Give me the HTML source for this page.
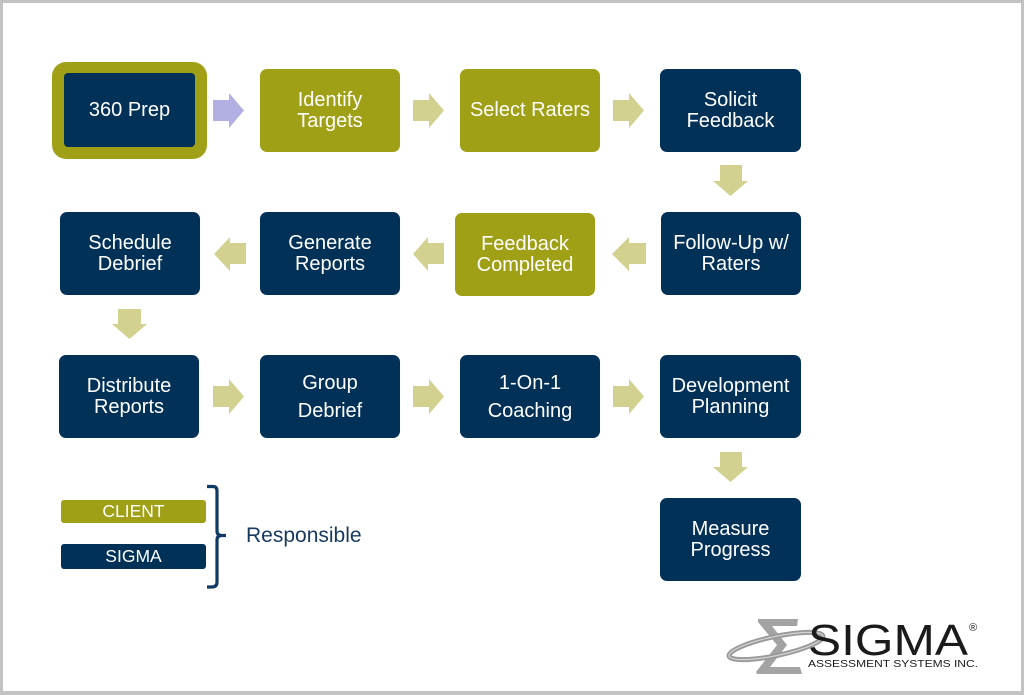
<!DOCTYPE html>
<html><head><meta charset="utf-8"><style>
html,body{margin:0;padding:0;background:#fff;}
body{width:1024px;height:695px;position:relative;overflow:hidden;font-family:"Liberation Sans",Arial,sans-serif;}
.frame{position:absolute;left:0;top:0;width:1024px;height:695px;box-sizing:border-box;border:3px solid #c3c3c3;border-bottom-width:4px;}
.b{position:absolute;border-radius:7px;color:#fff;font-size:20px;line-height:21px;display:flex;align-items:center;justify-content:center;text-align:center;}
.n{background:#023158;}
.o{background:#9fa016;}
</style></head><body>
<div class="frame"></div>

<!-- Row 1 -->
<div style="position:absolute;left:52px;top:62px;width:155px;height:97px;background:#9fa016;border-radius:14px;"></div>
<div class="b n" style="left:64px;top:73px;width:131px;height:74px;border-radius:4px;">360 Prep</div>
<div class="b o" style="left:260px;top:69px;width:140px;height:83px;">Identify<br>Targets</div>
<div class="b o" style="left:460px;top:69px;width:140px;height:83px;">Select Raters</div>
<div class="b n" style="left:660px;top:69px;width:141px;height:83px;">Solicit<br>Feedback</div>

<!-- Row 2 -->
<div class="b n" style="left:60px;top:212px;width:140px;height:83px;">Schedule<br>Debrief</div>
<div class="b n" style="left:260px;top:212px;width:140px;height:83px;">Generate<br>Reports</div>
<div class="b o" style="left:455px;top:213px;width:140px;height:83px;">Feedback<br>Completed</div>
<div class="b n" style="left:661px;top:212px;width:140px;height:83px;">Follow-Up w/<br>Raters</div>

<!-- Row 3 -->
<div class="b n" style="left:59px;top:355px;width:140px;height:83px;">Distribute<br>Reports</div>
<div class="b n" style="left:260px;top:355px;width:140px;height:83px;line-height:28px;">Group<br>Debrief</div>
<div class="b n" style="left:460px;top:355px;width:140px;height:83px;line-height:28px;">1-On-1<br>Coaching</div>
<div class="b n" style="left:660px;top:355px;width:141px;height:83px;">Development<br>Planning</div>

<!-- Row 4 -->
<div class="b n" style="left:660px;top:498px;width:141px;height:83px;">Measure<br>Progress</div>

<svg width="1024" height="695" style="position:absolute;left:0;top:0;">
  <polygon points="213,100 229,100 229,93 244,110.5 229,128 229,121 213,121" fill="#b2b0e2"/>
  <polygon points="413,100 429,100 429,93 444,110.5 429,128 429,121 413,121" fill="#d3d18f"/>
  <polygon points="613,100 629,100 629,93 644,110.5 629,128 629,121 613,121" fill="#d3d18f"/>
  <polygon points="720,165 742,165 742,181 748,181 730.5,196 713,181 720,181" fill="#d3d18f"/>
  <polygon points="646,243 629,243 629,237 612,254 629,271 629,264 646,264" fill="#d3d18f"/>
  <polygon points="444,243 428,243 428,237 413,254 428,271 428,264 444,264" fill="#d3d18f"/>
  <polygon points="246,243 230,243 230,237 214,254 230,271 230,264 246,264" fill="#d3d18f"/>
  <polygon points="118,309 141,309 141,324 147,324 129.5,339 112,324 118,324" fill="#d3d18f"/>
  <polygon points="213,386 229,386 229,379 244,396.5 229,414 229,407 213,407" fill="#d3d18f"/>
  <polygon points="413,386 429,386 429,379 444,396.5 429,414 429,407 413,407" fill="#d3d18f"/>
  <polygon points="613,386 629,386 629,379 644,396.5 629,414 629,407 613,407" fill="#d3d18f"/>
  <polygon points="720,452 742,452 742,467 748,467 730.5,482 713,467 720,467" fill="#d3d18f"/>

  <!-- legend bracket -->
  <path d="M207,486.5 H213 Q217,486.5 217,491 V531 Q217,535.5 222,535.5 H226 M222,535.5 Q217,535.5 217,540 V582 Q217,587 212,587 H207" fill="none" stroke="#0f3a63" stroke-width="3.2"/>

  <!-- logo -->
  <g>
    <polygon points="758,619 798,619 797,626 772,626 787,645 770,667 800,667 802,674 757,674 756,672 777,645 758,622" fill="#a3a3a3"/>
    <ellipse cx="776" cy="646" rx="48" ry="9.5" transform="rotate(-12 776 646)" fill="none" stroke="#9a9a9a" stroke-width="5"/>
    <ellipse cx="776" cy="646" rx="48" ry="9.5" transform="rotate(-12 776 646)" fill="none" stroke="#d4d4d4" stroke-width="1.2"/>
    <text x="808" y="655" font-family="Liberation Sans, Arial, sans-serif" font-size="44" fill="#1a1a1a" textLength="160" lengthAdjust="spacingAndGlyphs">SIGMA</text>
    <text x="969" y="631" font-family="Liberation Sans, Arial, sans-serif" font-size="11" fill="#1a1a1a">®</text>
    <text x="808" y="667" font-family="Liberation Sans, Arial, sans-serif" font-size="10" fill="#1a1a1a" textLength="170" lengthAdjust="spacingAndGlyphs">ASSESSMENT SYSTEMS INC.</text>
  </g>
</svg>

<!-- Legend -->
<div class="b o" style="left:61px;top:500px;width:145px;height:23px;border-radius:3px;font-size:17.5px;">CLIENT</div>
<div class="b n" style="left:61px;top:544px;width:145px;height:25px;border-radius:3px;font-size:17.5px;">SIGMA</div>
<div style="position:absolute;left:246px;top:524px;font-size:21px;color:#17395f;line-height:24px;">Responsible</div>
</body></html>
